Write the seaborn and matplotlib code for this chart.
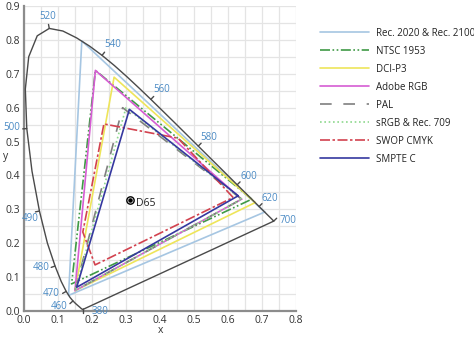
import numpy as np
import pandas as pd
import matplotlib
matplotlib.use("Agg")
import matplotlib.pyplot as plt
import seaborn as sns

# CIE 1931 2-degree spectral locus (chromaticity x, y) by wavelength in nm
wavelengths = [380, 385, 390, 395, 400, 405, 410, 415, 420, 425, 430, 435, 440, 445,
               450, 455, 460, 465, 470, 475, 480, 485, 490, 495, 500, 505, 510, 515,
               520, 525, 530, 535, 540, 545, 550, 555, 560, 565, 570, 575, 580, 585,
               590, 595, 600, 605, 610, 615, 620, 625, 630, 635, 640, 645, 650, 660,
               670, 680, 700]
locus_x = [0.1741, 0.1740, 0.1738, 0.1736, 0.1733, 0.1730, 0.1726, 0.1721, 0.1714,
           0.1703, 0.1689, 0.1669, 0.1644, 0.1611, 0.1566, 0.1510, 0.1440, 0.1355,
           0.1241, 0.1096, 0.0913, 0.0687, 0.0454, 0.0235, 0.0082, 0.0039, 0.0139,
           0.0389, 0.0743, 0.1142, 0.1547, 0.1929, 0.2296, 0.2658, 0.3016, 0.3373,
           0.3731, 0.4087, 0.4441, 0.4788, 0.5125, 0.5448, 0.5752, 0.6029, 0.6270,
           0.6482, 0.6658, 0.6801, 0.6915, 0.7006, 0.7079, 0.7140, 0.7190, 0.7230,
           0.7260, 0.7300, 0.7320, 0.7334, 0.7347]
locus_y = [0.0050, 0.0050, 0.0049, 0.0049, 0.0048, 0.0048, 0.0048, 0.0048, 0.0051,
           0.0058, 0.0069, 0.0086, 0.0109, 0.0138, 0.0177, 0.0227, 0.0297, 0.0399,
           0.0578, 0.0868, 0.1327, 0.2007, 0.2950, 0.4127, 0.5384, 0.6548, 0.7502,
           0.8120, 0.8338, 0.8262, 0.8059, 0.7816, 0.7543, 0.7243, 0.6923, 0.6589,
           0.6245, 0.5896, 0.5547, 0.5202, 0.4866, 0.4544, 0.4242, 0.3965, 0.3725,
           0.3514, 0.3340, 0.3197, 0.3083, 0.2993, 0.2920, 0.2859, 0.2809, 0.2770,
           0.2740, 0.2700, 0.2680, 0.2666, 0.2653]

# Labelled wavelengths and where their labels sit
label_nm = [380, 460, 470, 480, 490, 500, 520, 540, 560, 580, 600, 620, 700]
label_x = [0.222, 0.103, 0.079, 0.050, 0.018, -0.035, 0.070, 0.262, 0.405, 0.542, 0.662, 0.722, 0.776]
label_y = [0.000, 0.012, 0.052, 0.127, 0.272, 0.540, 0.868, 0.787, 0.655, 0.513, 0.398, 0.333, 0.266]

# Colour gamuts (vertex x, y)
gamut_names = ["Rec. 2020 & Rec. 2100", "NTSC 1953", "DCI-P3", "Adobe RGB",
               "PAL", "sRGB & Rec. 709", "SWOP CMYK", "SMPTE C"]
rec2020_x = [0.708, 0.170, 0.131]
rec2020_y = [0.292, 0.797, 0.046]
ntsc_x = [0.670, 0.210, 0.140]
ntsc_y = [0.330, 0.710, 0.080]
dcip3_x = [0.680, 0.265, 0.150]
dcip3_y = [0.320, 0.690, 0.060]
adobe_x = [0.640, 0.210, 0.150]
adobe_y = [0.330, 0.710, 0.060]
pal_x = [0.640, 0.290, 0.150]
pal_y = [0.330, 0.600, 0.060]
srgb_x = [0.640, 0.300, 0.150]
srgb_y = [0.330, 0.600, 0.060]
swop_x = [0.615, 0.453, 0.235, 0.173, 0.209]
swop_y = [0.335, 0.510, 0.552, 0.233, 0.136]
smpte_x = [0.630, 0.310, 0.155]
smpte_y = [0.340, 0.595, 0.070]

d65_x, d65_y = 0.3127, 0.3290

gamut_xs = [rec2020_x, ntsc_x, dcip3_x, adobe_x, pal_x, srgb_x, swop_x, smpte_x]
gamut_ys = [rec2020_y, ntsc_y, dcip3_y, adobe_y, pal_y, srgb_y, swop_y, smpte_y]
gamut_colors = ["#a6c6e2", "#3f9a45", "#eee55a", "#d65cd3", "#7f7f7f",
                "#8ed88e", "#d2424f", "#35389f"]
gamut_styles = ["-", (0, (6, 1.5, 1, 1.5, 1, 1.5)), "-", "-", (0, (7, 7)),
                (0, (1, 1.6)), (0, (6, 1.5, 1.5, 1.5)), "-"]

sns.set_theme(style="whitegrid")
plt.rcParams["font.family"] = ["Open Sans", "DejaVu Sans"]

fig = plt.figure(figsize=(4.74, 3.39), dpi=100)
ax = fig.add_axes([24 / 474, 28 / 339, 272 / 474, 305 / 339])
ax.set_facecolor("white")

# Spectral locus and line of purples
locus = pd.DataFrame({"x": locus_x + [locus_x[0]], "y": locus_y + [locus_y[0]]})
sns.lineplot(data=locus, x="x", y="y", sort=False, estimator=None,
             color="#4a4a4a", linewidth=1.0, ax=ax, zorder=3)

# Wavelength tick marks, pointing away from the centre of the locus
lx = np.array(locus_x)
ly = np.array(locus_y)
cx, cy = 0.33, 0.33
for nm, tx, ty in zip(label_nm, label_x, label_y):
    i = wavelengths.index(nm)
    px, py = lx[i], ly[i]
    dx = lx[min(i + 1, len(lx) - 1)] - lx[max(i - 1, 0)]
    dy = ly[min(i + 1, len(ly) - 1)] - ly[max(i - 1, 0)]
    nx, ny = dy, -dx
    if nx * (px - cx) + ny * (py - cy) < 0:
        nx, ny = -nx, -ny
    norm = np.hypot(nx, ny)
    nx, ny = nx / norm * 0.012, ny / norm * 0.012
    ax.plot([px, px + nx], [py, py + ny], color="#4a4a4a", linewidth=1.0,
            zorder=3, clip_on=False)
    ax.text(tx, ty, str(nm), color="#4a8ac4", fontsize=7, ha="center",
            va="center", zorder=4, clip_on=False)

# Gamut outlines
for name, gx, gy, col, ls in zip(gamut_names, gamut_xs, gamut_ys,
                                 gamut_colors, gamut_styles):
    poly = pd.DataFrame({"x": gx + [gx[0]], "y": gy + [gy[0]]})
    sns.lineplot(data=poly, x="x", y="y", sort=False, estimator=None,
                 color=col, linewidth=1.2, linestyle=ls, label=name, ax=ax,
                 zorder=2)

# White point
ax.scatter([d65_x], [d65_y], s=28, facecolor="white", edgecolor="black",
           linewidth=1.0, zorder=5)
ax.scatter([d65_x], [d65_y], s=5, color="black", zorder=6)
ax.text(d65_x + 0.018, d65_y - 0.012, "D65", fontsize=7.5, ha="left",
        va="center", color="#222222")

ax.set_xlim(0, 0.8)
ax.set_ylim(0, 0.9)
ax.set_xticks(np.arange(0, 0.81, 0.1))
ax.set_yticks(np.arange(0, 0.91, 0.1))
ax.set_xticks(np.arange(0.05, 0.8, 0.1), minor=True)
ax.set_yticks(np.arange(0.05, 0.9, 0.1), minor=True)
ax.set_xticklabels([f"{v:.1f}" for v in np.arange(0, 0.81, 0.1)])
ax.set_yticklabels([f"{v:.1f}" for v in np.arange(0, 0.91, 0.1)])
ax.grid(True, which="both", color="#e4e4e4", linewidth=0.9)
ax.tick_params(axis="both", which="both", length=0, labelsize=7.5,
               colors="#333333", pad=3)
for side in ["top", "right"]:
    ax.spines[side].set_visible(False)
for side in ["left", "bottom"]:
    ax.spines[side].set_color("#8c8c8c")
    ax.spines[side].set_linewidth(1.6)

ax.set_xlabel("x", fontsize=7.5, color="#333333")
ax.set_ylabel("y", fontsize=7.5, color="#333333", rotation=0)
ax.xaxis.set_label_coords(0.5, -0.045)
ax.yaxis.set_label_coords(-0.068, 0.49)

leg = ax.legend(loc="upper left", bbox_to_anchor=(316 / 474, 1 - 24 / 339),
                bbox_transform=fig.transFigure, frameon=False, fontsize=7,
                handlelength=5.0, handletextpad=0.8, labelspacing=0.72,
                borderaxespad=0)
for t in leg.get_texts():
    t.set_color("#222222")

fig.savefig("out.png", dpi=100)
